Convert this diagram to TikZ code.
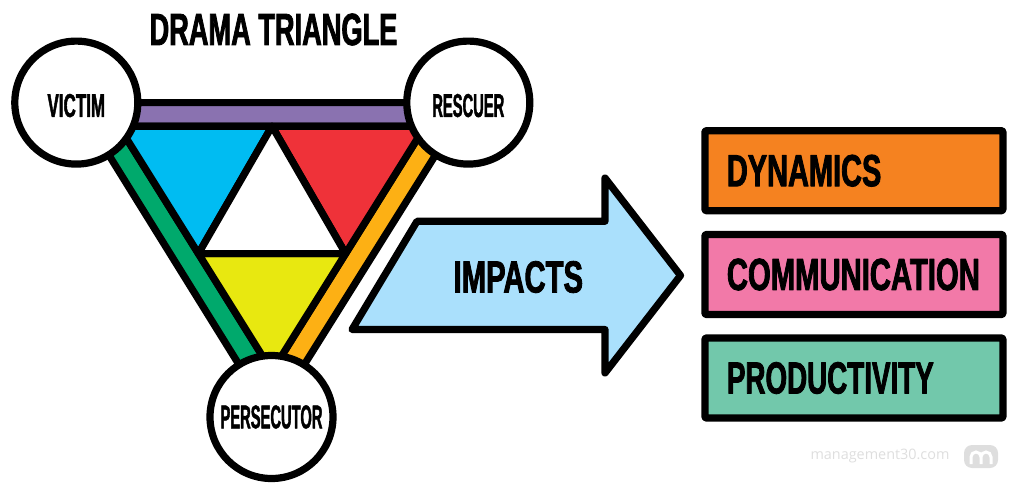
\documentclass[tikz,border=0pt]{standalone}
\usepackage{fontspec}
\usepackage{tikz}
\usetikzlibrary{positioning}
\newfontfamily\headfont[FakeStretch=0.65,FakeBold=1.8]{Liberation Sans Bold}
\newfontfamily\rolefont[FakeStretch=0.46,FakeBold=1.2]{Liberation Sans Bold}
\newfontfamily\markfont{Open Sans}
\definecolor{barpurple}{HTML}{8A72B0}
\definecolor{bargreen}{HTML}{00A96C}
\definecolor{barorange}{HTML}{FDB014}
\definecolor{wedgeblue}{HTML}{00BCF2}
\definecolor{wedgered}{HTML}{EF3239}
\definecolor{wedgeyellow}{HTML}{E8E810}
\definecolor{arrowblue}{HTML}{AAE0FC}
\definecolor{boxorange}{HTML}{F58220}
\definecolor{boxpink}{HTML}{F279A8}
\definecolor{boxteal}{HTML}{72C8AB}
\definecolor{markgrey}{HTML}{DEDEDE}
\tikzset{
  edged/.style={draw=black, line width=7.2pt, line join=round},
  role/.style={edged, circle, fill=white, minimum size=123pt, inner sep=0pt,
    font=\rolefont\fontsize{33}{33}\selectfont},
  effect/.style={edged, rounded corners=1pt, minimum width=298pt, minimum height=80pt,
    text width=254pt, inner xsep=22pt, inner ysep=0pt, align=left,
    font=\headfont\fontsize{45}{45}\selectfont},
  heading/.style={inner sep=0pt, font=\headfont\fontsize{45}{45}\selectfont}
}
\begin{document}
\begin{tikzpicture}[x=1pt, y=-1pt]
  \useasboundingbox (0,0) rectangle (1024,487);
  \coordinate (v) at (76.3,102.6); \coordinate (r) at (468.3,102.6);
  \coordinate (p) at (271.5,417);
  \coordinate (i1) at (118.8,126.2); \coordinate (i2) at (425.2,126.2);
  \coordinate (i3) at (272,371.3);
  \coordinate (m1) at (272,126.2); \coordinate (m2) at (198.4,253.6);
  \coordinate (m3) at (345.6,253.6);
  \draw[edged, fill=barpurple] (v) -- (r) -- (i2) -- (i1) -- cycle;
  \draw[edged, fill=barorange] (r) -- (p) -- (i3) -- (i2) -- cycle;
  \draw[edged, fill=bargreen] (p) -- (v) -- (i1) -- (i3) -- cycle;
  \draw[edged, fill=wedgeblue] (i1) -- (m1) -- (m2) -- cycle;
  \draw[edged, fill=wedgered] (m1) -- (i2) -- (m3) -- cycle;
  \draw[edged, fill=wedgeyellow] (m2) -- (m3) -- (i3) -- cycle;
  \draw[edged, fill=white] (m1) -- (m3) -- (m2) -- cycle;
  \node[role, text height=29pt] (victim) at (v) {\scalebox{1.12}[1]{VICTIM}};
  \node[role, text height=29pt] (rescuer) at (r) {\scalebox{0.97}[1]{RESCUER}};
  \node[role] (persecutor) at (p) {\scalebox{0.97}[1]{PERSECUTOR}};
  \node[heading] (title) at (273.5,29.5) {\scalebox{0.93}[1]{DRAMA TRIANGLE}};
  \draw[edged, fill=arrowblue] (352,329.5) -- (417,221.3) -- (605,221.3) -- (605,178)
    -- (680.5,275.5) -- (605,373) -- (605,329.5) -- cycle;
  \node[heading] (impacts) at (518.3,277) {IMPACTS};
  \node[effect, fill=boxorange] (dynamics) at (853.9,170.7) {\scalebox{0.99}[1]{DYNAMICS}};
  \node[effect, fill=boxpink] (communication) at (853.9,274.5) {COMMUNICATION};
  \node[effect, fill=boxteal] (productivity) at (853.9,378) {\scalebox{0.95}[1]{PRODUCTIVITY}};
  \node[inner sep=0pt, text=markgrey, font=\markfont\fontsize{14.4}{15}\selectfont]
    (site) at (880,456.5) {management30.com};
  \fill[markgrey, rounded corners=8pt] (964,468) -- (964,445) -- (998,445) -- (998,468) -- cycle;
  \draw[white, line width=3pt] (971,464) -- (971,457) arc[start angle=180, end angle=0, radius=5pt]
    -- (981,464) (981,457) arc[start angle=180, end angle=0, radius=5pt] -- (991,464);
\end{tikzpicture}
\end{document}
